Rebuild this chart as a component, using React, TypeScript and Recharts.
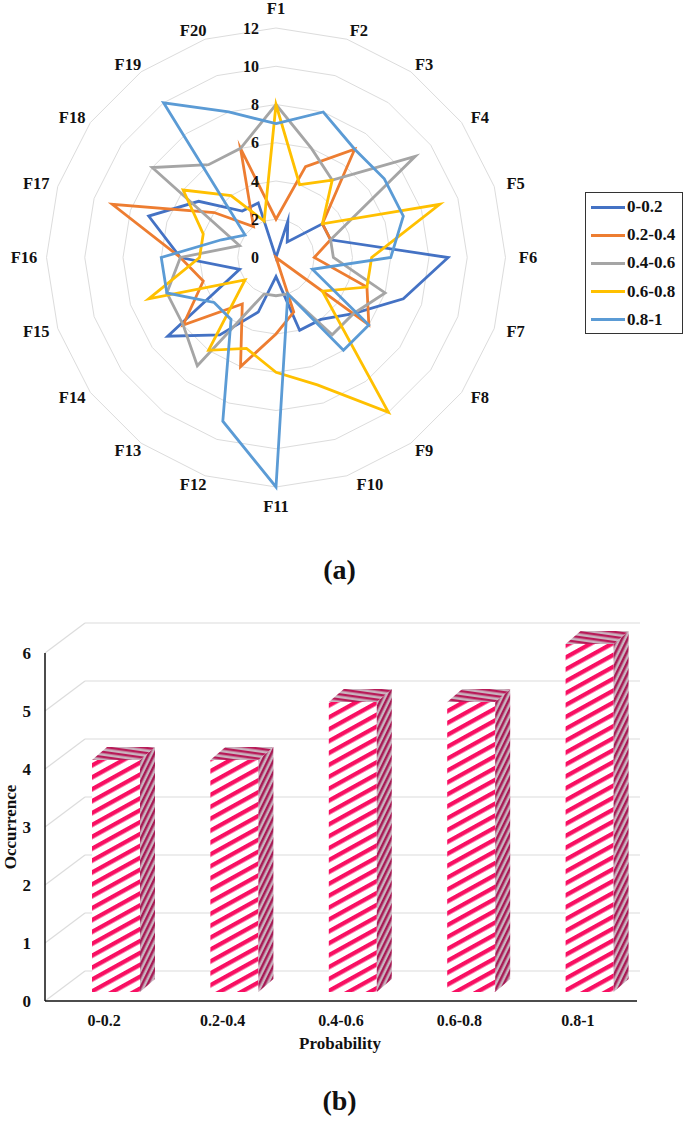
import React from "react";
import {
  RadarChart,
  Radar,
  PolarGrid,
  PolarAngleAxis,
  PolarRadiusAxis,
  Legend,
  BarChart,
  Bar,
  XAxis,
  YAxis,
  CartesianGrid,
} from "recharts";

const features = ["F1", "F2", "F3", "F4", "F5", "F6", "F7", "F8", "F9", "F10", "F11", "F12", "F13", "F14", "F15", "F16", "F17", "F18", "F19", "F20"];
const range1 = [0, 2, 1, 3, 3, 9, 7, 5, 4, 4, 1, 3, 5, 7, 2, 5, 7, 5, 3, 3];
const range2 = [2, 5, 7, 3, 3, 2, 5, 6, 0, 3, 4, 6, 3, 6, 4, 5, 9, 4, 2, 6];
const range3 = [8, 6, 5, 9, 3, 3, 6, 5, 5, 2, 2, 2, 7, 6, 6, 5, 2, 8, 6, 6];
const range4 = [8, 4, 5, 3, 9, 5, 5, 3, 10, 7, 6, 5, 6, 2, 7, 4, 4, 6, 4, 2];
const range5 = [7, 8, 7, 7, 7, 6, 2, 6, 6, 2, 12, 9, 4, 4, 6, 6, 3, 2, 10, 8];

const seriesNames = ["0-0.2", "0.2-0.4", "0.4-0.6", "0.6-0.8", "0.8-1"];
const seriesColors = ["#4472C4", "#ED7D31", "#A5A5A5", "#FFC000", "#5B9BD5"];
const radiusTicks = [0, 2, 4, 6, 8, 10, 12];

const probabilities = ["0-0.2", "0.2-0.4", "0.4-0.6", "0.6-0.8", "0.8-1"];
const occurrences = [4, 4, 5, 5, 6];
const occurrenceTicks = [0, 1, 2, 3, 4, 5, 6];

const radarData = features.map((f, i) => ({
  name: f,
  r0: range1[i],
  r1: range2[i],
  r2: range3[i],
  r3: range4[i],
  r4: range5[i],
}));
const barData = probabilities.map((p, i) => ({ name: p, value: occurrences[i] }));

const serif = "'Liberation Serif', serif";
const CX = 276;
const CY = 257.5;

const AngleTick = ({ x, y, payload }: any) => {
  // labels sit on a flatter oval than the grid, F1 and F11 a bit further out
  const dx = x - CX;
  const dy = y - CY;
  const len = Math.sqrt(dx * dx + dy * dy);
  const sx = dx / len;
  const sy = dy / len;
  const nudge = Math.abs(sx) > 0.05 && Math.abs(sx) < 0.4 ? Math.sign(sx) * (payload.value === "F10" ? 16 : 5) : 0;
  const ly = Math.abs(sx) < 0.05 ? CY + sy * 249 : CY + sy * 239;
  return (
    <text x={CX + sx * 252 + nudge} y={ly} textAnchor="middle" dominantBaseline="central"
      fontFamily={serif} fontWeight="bold" fontSize={16.5} fill="#111">
      {payload.value}
    </text>
  );
};

const RadiusTick = ({ x, y, payload }: any) => (
  <text x={x - 17} y={y} textAnchor="end" dominantBaseline="central"
    fontFamily={serif} fontWeight="bold" fontSize={16} fill="#111">
    {payload.value}
  </text>
);

const LegendBox = () => (
  <div style={{ width: 91, height: 140, border: "1px solid #333", background: "#fff", paddingLeft: 5, boxSizing: "content-box" }}>
    {seriesNames.map((n, i) => (
      <div key={n} style={{ display: "flex", alignItems: "center", height: 28.2 }}>
        <span style={{ display: "inline-block", width: 34, height: 3, background: seriesColors[i], marginRight: 2, flexShrink: 0 }} />
        <span style={{ fontFamily: serif, fontWeight: "bold", fontSize: 17, color: "#111" }}>{n}</span>
      </div>
    ))}
  </div>
);

const DEPTH_X = 15;
const DEPTH_Y = 13;
const SHIFT_X = 12;
const SHIFT_Y = -9;

const Bar3D = ({ x, y, width, height }: any) => {
  const l = x + SHIFT_X;
  const r = l + width;
  const t = y + SHIFT_Y;
  const b = t + height;
  return (
    <g>
      <rect x={l} y={t} width={width} height={height} fill="url(#hatchFront)" />
      <polygon points={`${r},${t} ${r + DEPTH_X},${t - DEPTH_Y} ${r + DEPTH_X},${b - DEPTH_Y} ${r},${b}`} fill="url(#hatchSide)" />
      <polygon points={`${l},${t} ${l + DEPTH_X},${t - DEPTH_Y} ${r + DEPTH_X},${t - DEPTH_Y} ${r},${t}`} fill="url(#hatchTop)" />
    </g>
  );
};

// back wall line plus the diagonal running to it from the axis
const WallLine = ({ x1, y1 }: any) => (
  <g>
    <line x1={x1} y1={y1} x2={x1 + 40} y2={y1 - 30} stroke="#dcdcdc" strokeWidth={1.2} />
    <line x1={x1 + 40} y1={y1 - 30} x2={640} y2={y1 - 30} stroke="#dcdcdc" strokeWidth={1.2} />
  </g>
);

export default function App() {
  return (
    <div style={{ position: "absolute", left: 0, top: 0, width: 685, height: 1122, background: "#fff", overflow: "hidden" }}>
      <div style={{ position: "absolute", left: 0, top: 0 }}>
        <RadarChart
          width={685}
          height={530}
          data={radarData}
          cx={CX}
          cy={CY}
          outerRadius={229.5}
          margin={{ top: 0, right: 0, bottom: 0, left: 0 }}
        >
          <PolarGrid gridType="polygon" radialLines={false} stroke="#dcdcdc" strokeWidth={1} />
          <PolarAngleAxis dataKey="name" tick={<AngleTick />} tickLine={false} axisLine={false} />
          <PolarRadiusAxis angle={90} domain={[0, 12]} ticks={radiusTicks as any} tickCount={7} axisLine={false} tickLine={false} tick={<RadiusTick />} />
          {seriesNames.map((n, i) => (
            <Radar
              key={n}
              name={n}
              dataKey={`r${i}`}
              stroke={seriesColors[i]}
              strokeWidth={2.8}
              strokeLinejoin="miter"
              strokeMiterlimit={12}
              fill="none"
              fillOpacity={0}
              dot={false}
              isAnimationActive={false}
            />
          ))}
          <Legend content={<LegendBox />} wrapperStyle={{ position: "absolute", left: 585, top: 192, width: 98, bottom: "auto" }} />
        </RadarChart>
      </div>

      <div style={{ position: "absolute", left: 0, top: 554, width: 685, textAlign: "center", fontFamily: serif, fontWeight: "bold", fontSize: 28, color: "#111" }}>
        <span style={{ position: "relative", left: -3 }}>(a)</span>
      </div>

      <div style={{ position: "absolute", left: 0, top: 600 }}>
        <BarChart
          width={685}
          height={470}
          data={barData}
          margin={{ top: 53, right: 48, bottom: 39, left: 0 }}
        >
          <defs>
            <pattern id="hatchFront" patternUnits="userSpaceOnUse" width="10.4" height="10.4" patternTransform="rotate(-29)">
              <rect width="10.4" height="10.4" fill="#fff" />
              <rect width="10.4" height="4.3" fill="#F80F62" />
            </pattern>
            <pattern id="hatchSide" patternUnits="userSpaceOnUse" width="5" height="5" patternTransform="rotate(-64)">
              <rect width="5" height="5" fill="#c9b4bf" />
              <rect width="5" height="2.5" fill="#A81A55" />
            </pattern>
            <pattern id="hatchTop" patternUnits="userSpaceOnUse" width="5" height="5" patternTransform="rotate(8)">
              <rect width="5" height="5" fill="#c9b4bf" />
              <rect width="5" height="2.4" fill="#B81A58" />
            </pattern>
          </defs>
          <CartesianGrid vertical={false} horizontal={<WallLine />} />
          <XAxis
            dataKey="name"
            axisLine={{ stroke: "#111", strokeWidth: 1.5 }}
            tickLine={false}
            tick={{ fontFamily: serif, fontWeight: "bold", fontSize: 16, fill: "#111" }}
            tickMargin={8}
            label={{ value: "Probability", position: "insideBottom", offset: -18, dx: -1, fontFamily: serif, fontWeight: "bold", fontSize: 17, fill: "#111" }}
          />
          <YAxis
            domain={[0, 6]}
            ticks={occurrenceTicks}
            width={45}
            axisLine={{ stroke: "#111", strokeWidth: 1.5 }}
            tickLine={false}
            tick={{ fontFamily: serif, fontWeight: "bold", fontSize: 17, fill: "#111" }}
            tickMargin={8}
            label={{ value: "Occurrence", angle: -90, position: "insideLeft", offset: 10, fontFamily: serif, fontWeight: "bold", fontSize: 17, fill: "#111", style: { textAnchor: "middle" } }}
          />
          <Bar dataKey="value" barSize={48} shape={<Bar3D />} isAnimationActive={false} />
        </BarChart>
      </div>

      <div style={{ position: "absolute", left: 0, top: 1085, width: 685, textAlign: "center", fontFamily: serif, fontWeight: "bold", fontSize: 28, color: "#111" }}>
        <span style={{ position: "relative", left: -3 }}>(b)</span>
      </div>
    </div>
  );
}
